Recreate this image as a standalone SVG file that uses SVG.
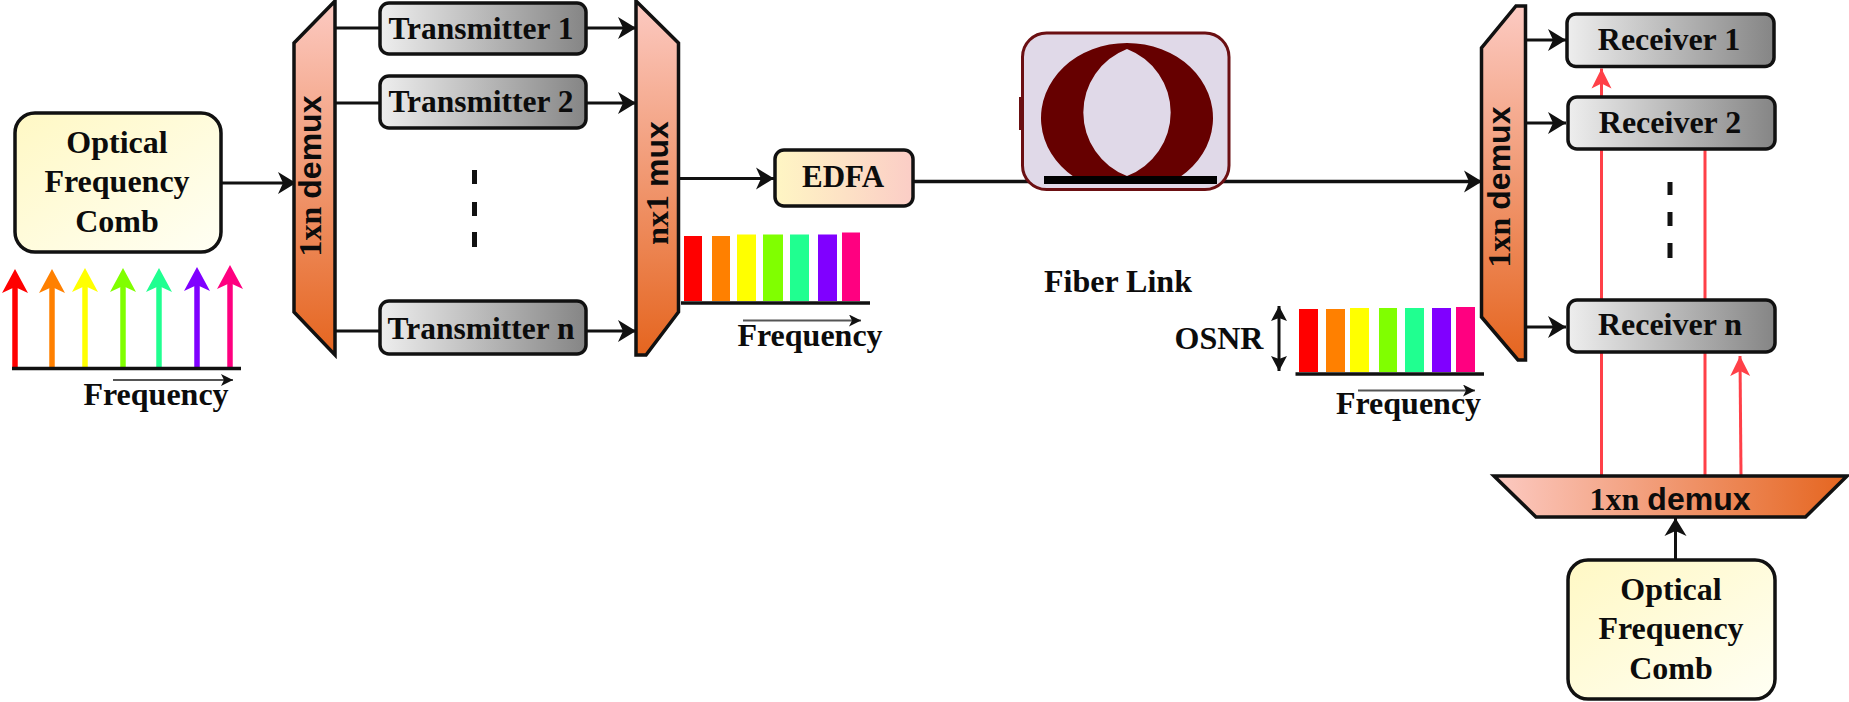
<svg xmlns="http://www.w3.org/2000/svg" width="1849" height="702" viewBox="0 0 1849 702">
<style>
text{font-family:"Liberation Serif","Times New Roman",serif;font-weight:700;font-size:32px;fill:#0c0c0c;text-anchor:middle}
.sans{font-family:"Liberation Sans",Arial,sans-serif}
.box{stroke:#111;stroke-width:3.5}
.wire{fill:none;stroke:#111;stroke-width:3;marker-end:url(#ah)}
.plain{fill:none;stroke:#111;stroke-width:3}
.red{fill:none;stroke:#ff4048;stroke-width:3}
.redh{fill:none;stroke:#ff4048;stroke-width:3;marker-end:url(#rh)}
.axis{fill:none;stroke:#111;stroke-width:3.5}
.faxis{fill:none;stroke:#555;stroke-width:2;marker-end:url(#fh)}
.dash{fill:none;stroke:#111;stroke-width:5}
.c1{fill:#ff0000;stroke:#ff0000}.c2{fill:#ff8000;stroke:#ff8000}.c3{fill:#ffff00;stroke:#ffff00}.c4{fill:#80ff00;stroke:#80ff00}.c5{fill:#20ff90;stroke:#20ff90}.c6{fill:#8000ff;stroke:#8000ff}.c7{fill:#ff0080;stroke:#ff0080}
.bar rect{stroke:none}
.comb line{stroke-width:5.5}
.comb polygon{stroke:none}
</style>
<defs>
<linearGradient id="gY" x1="0" y1="0" x2="1" y2="1"><stop offset="0" stop-color="#fff8c4"/><stop offset="1" stop-color="#fffff4"/></linearGradient>
<linearGradient id="gG" x1="0" y1="0" x2="1" y2="0"><stop offset="0" stop-color="#eeeeee"/><stop offset="1" stop-color="#858585"/></linearGradient>
<linearGradient id="gV" x1="0" y1="0" x2="0" y2="1"><stop offset="0" stop-color="#fccac2"/><stop offset="1" stop-color="#e5651f"/></linearGradient>
<linearGradient id="gH" x1="0" y1="0" x2="1" y2="0"><stop offset="0" stop-color="#fccac2"/><stop offset="1" stop-color="#e5651f"/></linearGradient>
<linearGradient id="gE" x1="0" y1="0" x2="1" y2="0"><stop offset="0" stop-color="#fff6c4"/><stop offset="1" stop-color="#fbcdc6"/></linearGradient>
<marker id="ah" markerUnits="userSpaceOnUse" markerWidth="20" markerHeight="24" refX="18" refY="12" orient="auto"><path d="M0 1L18 12L0 23L5 12Z" fill="#111"/></marker>
<marker id="rh" markerUnits="userSpaceOnUse" markerWidth="22" markerHeight="24" refX="20" refY="11" orient="auto"><path d="M0 1L20 11L0 21L5 11Z" fill="#ff4048"/></marker>
<marker id="fh" markerUnits="userSpaceOnUse" markerWidth="14" markerHeight="14" refX="12" refY="6" orient="auto"><path d="M0 0L12 6L0 12L3 6Z" fill="#111"/></marker>
<marker id="dh" markerUnits="userSpaceOnUse" markerWidth="18" markerHeight="20" refX="15" refY="9" orient="auto-start-reverse"><path d="M0 1L15 9L0 17L3 9Z" fill="#111"/></marker>
</defs>

<g id="connectors">
<path class="wire" d="M221 183H296"/>
<path class="plain" d="M335 28H380M335 103H380M335 331H380"/>
<path class="wire" d="M586 28H636"/>
<path class="wire" d="M586 103H636"/>
<path class="wire" d="M586 331H636"/>
<path class="wire" d="M679 178.500H774"/>
<path class="wire" style="stroke-width:3.500" d="M913 181.500H1482"/>
<path class="wire" d="M1525 40H1566"/>
<path class="wire" d="M1525 123H1566"/>
<path class="wire" d="M1525 327H1566"/>
<path class="redh" d="M1601.500 476V68.500"/>
<path class="red" d="M1705 476V149"/>
<path class="redh" d="M1741 476L1740 356"/>
<path class="wire" d="M1675.500 559V518"/>
<path class="dash" d="M474.500 170V184M474.500 202V216M474.500 232V247"/>
<path class="dash" d="M1670 182V195M1670 212V226M1670 243V258"/>
<path d="M1279 306V371" stroke="#111" stroke-width="3" fill="none" marker-start="url(#dh)" marker-end="url(#dh)"/>
</g>

<g id="comb1"><rect class="box" x="15" y="113" width="206" height="139" rx="20" fill="url(#gY)"/>
<text x="117" y="153">Optical</text><text x="117" y="192">Frequency</text><text x="117" y="232">Comb</text></g>

<g id="comb-lines" class="comb">
<g class="c1"><line x1="15" y1="368" x2="15" y2="285"/><polygon points="15,269 28,293 15,287 2,293"/></g>
<g class="c2"><line x1="52" y1="368" x2="52" y2="285"/><polygon points="52,269 65,293 52,287 39,293"/></g>
<g class="c3"><line x1="85" y1="368" x2="85" y2="284"/><polygon points="85,268 98,292 85,286 72,292"/></g>
<g class="c4"><line x1="123" y1="368" x2="123" y2="284"/><polygon points="123,268 136,292 123,286 110,292"/></g>
<g class="c5"><line x1="159" y1="368" x2="159" y2="284"/><polygon points="159,268 172,292 159,286 146,292"/></g>
<g class="c6"><line x1="197" y1="368" x2="197" y2="283"/><polygon points="197,267 210,291 197,285 184,291"/></g>
<g class="c7"><line x1="230" y1="368" x2="230" y2="281"/><polygon points="230,265 243,289 230,283 217,289"/></g>
<path class="axis" d="M12 368.500H241"/>
<path class="faxis" d="M113 380H233"/>
<text x="156" y="405">Frequency</text>
</g>

<g id="demux1"><polygon class="box" points="335,1 294,43 294,312 335,355" fill="url(#gV)"/>
<text transform="translate(321 176) rotate(-90)">1xn <tspan class="sans">demux</tspan></text></g>

<g id="tx1"><rect class="box" x="380" y="3" width="206" height="51" rx="9" fill="url(#gG)"/><text x="481" y="39" style="font-size:31.500px">Transmitter 1</text></g>
<g id="tx2"><rect class="box" x="380" y="76" width="206" height="52" rx="9" fill="url(#gG)"/><text x="481" y="112" style="font-size:31.500px">Transmitter 2</text></g>
<g id="txn"><rect class="box" x="380" y="301" width="206" height="53" rx="9" fill="url(#gG)"/><text x="481" y="339" style="font-size:31.500px">Transmitter n</text></g>

<g id="mux"><polygon class="box" points="636,1 678.500,43 678.500,312 646,355 636,355" fill="url(#gV)"/>
<text transform="translate(668 183) rotate(-90)">nx1 <tspan class="sans">mux</tspan></text></g>

<g id="edfa"><rect class="box" x="775" y="150" width="138" height="56" rx="9" fill="url(#gE)"/><text x="843" y="187" style="font-size:31px">EDFA</text></g>

<g id="spectrum1" class="bar">
<rect class="c1" x="684" y="236" width="18" height="65"/><rect class="c2" x="712" y="236" width="18" height="65"/><rect class="c3" x="737" y="234.500" width="19" height="66.500"/><rect class="c4" x="763" y="234.500" width="20" height="66.500"/><rect class="c5" x="790" y="234.500" width="19" height="66.500"/><rect class="c6" x="818" y="234.500" width="19" height="66.500"/><rect class="c7" x="842" y="232.500" width="18" height="68.500"/>
<path class="axis" d="M681 303H870"/><path class="faxis" d="M743 320.500H861"/>
<text x="810" y="346">Frequency</text>
</g>

<g id="fiber">
<rect x="1022.500" y="33" width="206.500" height="156.500" rx="24" fill="#e0d9e8" stroke="#6b0f12" stroke-width="3"/>
<path d="M1020.500 97V130" stroke="#6b0f12" stroke-width="3" fill="none"/>
<path fill-rule="evenodd" fill="#660000" d="M1074 177A86 75 0 1 1 1180 177ZM1127 49A68 68 0 0 0 1127 176A68 68 0 0 0 1127 49Z"/>
<rect x="1044" y="176" width="173" height="8" fill="#000"/>
</g>
<text id="fiber-label" x="1118" y="292">Fiber Link</text>

<g id="osnr"><text x="1219" y="348.500">OSNR</text></g>

<g id="spectrum2" class="bar">
<rect class="c1" x="1299" y="309" width="19" height="63"/><rect class="c2" x="1326" y="309" width="19" height="63"/><rect class="c3" x="1350" y="308" width="19" height="64"/><rect class="c4" x="1379" y="308" width="18" height="64"/><rect class="c5" x="1405" y="308" width="19" height="64"/><rect class="c6" x="1432" y="308" width="19" height="64"/><rect class="c7" x="1456" y="307" width="19" height="65"/>
<path class="axis" d="M1295.500 374H1484"/><path class="faxis" d="M1358 390.500H1475"/>
<text x="1408.500" y="414">Frequency</text>
</g>

<g id="demux2"><polygon class="box" points="1525.500,6 1516,6 1481.500,48 1481.500,317 1518,360 1525.500,360" fill="url(#gV)"/>
<text transform="translate(1510 187) rotate(-90)">1xn <tspan class="sans">demux</tspan></text></g>

<g id="rx1"><rect class="box" x="1567" y="14" width="207" height="52.500" rx="9" fill="url(#gG)"/><text x="1669" y="50">Receiver 1</text></g>
<g id="rx2"><rect class="box" x="1568" y="97" width="207" height="52" rx="9" fill="url(#gG)"/><text x="1670" y="133">Receiver 2</text></g>
<g id="rxn"><rect class="box" x="1568" y="300" width="207" height="52" rx="9" fill="url(#gG)"/><text x="1670" y="335">Receiver n</text></g>

<g id="demux3"><polygon class="box" points="1494,476 1847,476 1805.500,517 1536,517" fill="url(#gH)"/>
<text x="1670" y="510">1xn <tspan class="sans">demux</tspan></text></g>

<g id="comb2"><rect class="box" x="1568" y="560" width="207" height="139" rx="20" fill="url(#gY)"/>
<text x="1671" y="600">Optical</text><text x="1671" y="639">Frequency</text><text x="1671" y="679">Comb</text></g>
</svg>
